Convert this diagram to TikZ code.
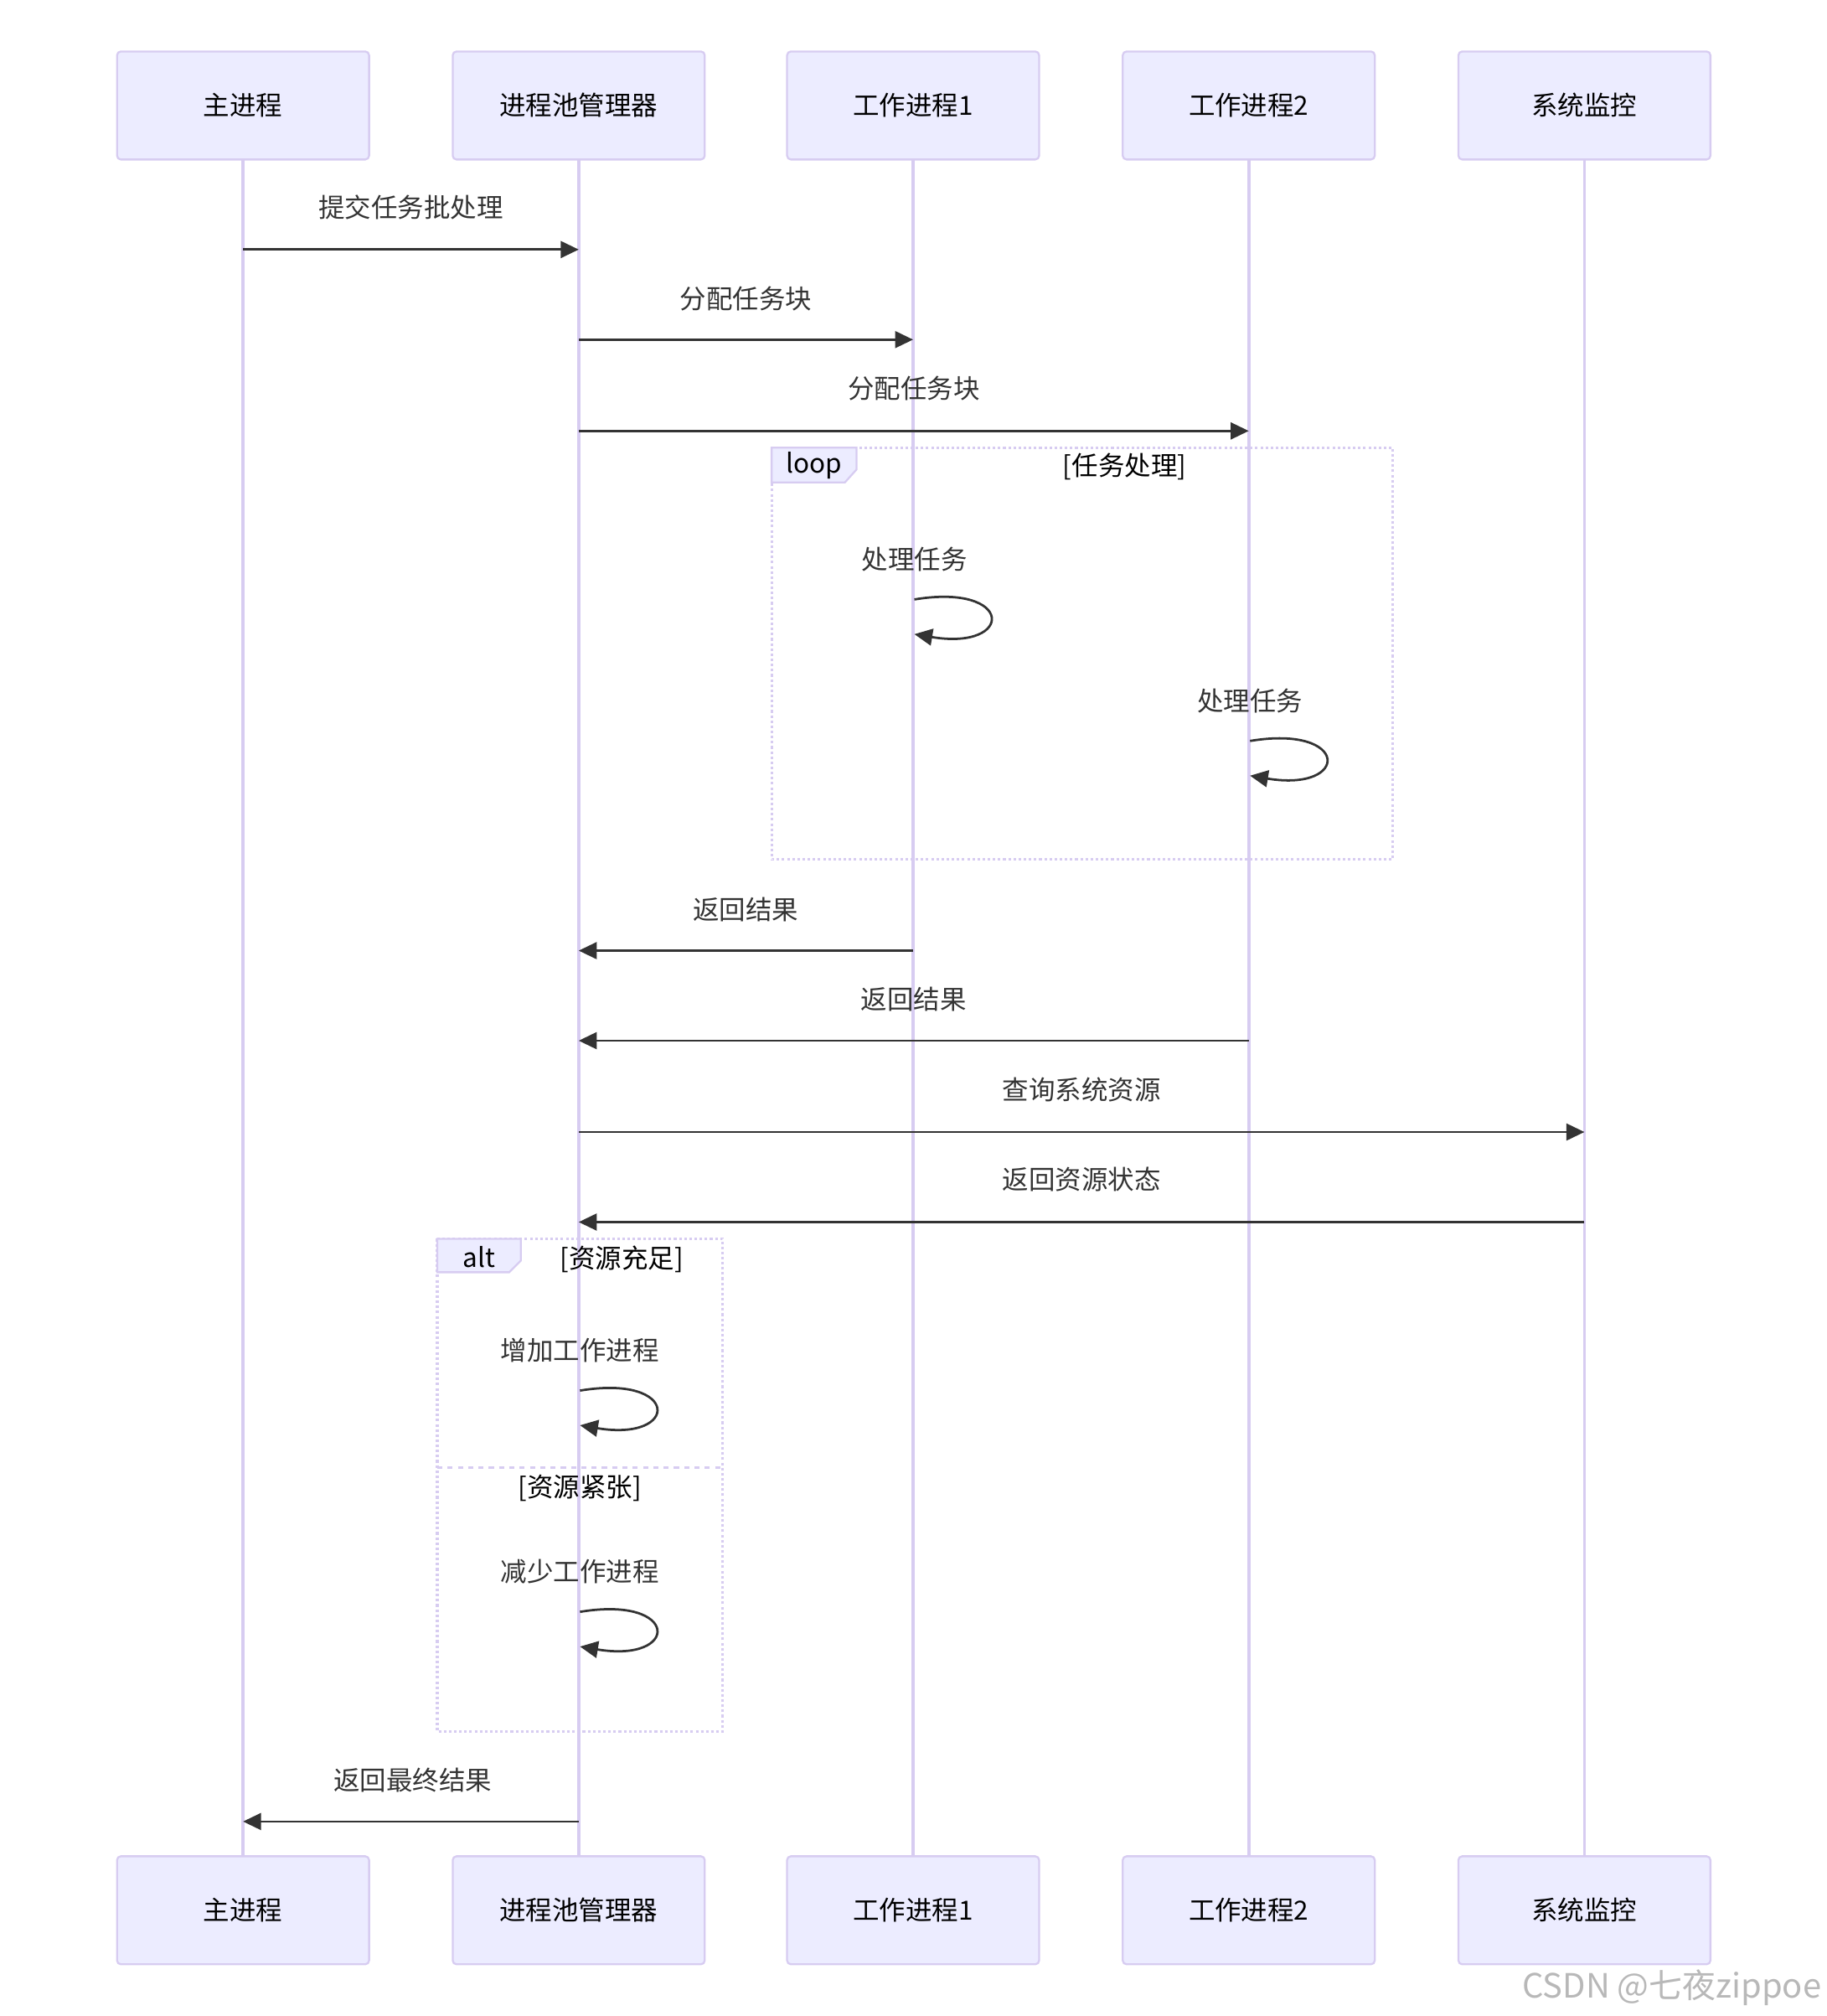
\documentclass[tikz,border=0pt]{standalone}
\usepackage{fontspec}
\setmainfont{Noto Sans CJK SC}
\usetikzlibrary{arrows.meta}
\definecolor{actfill}{HTML}{ECECFF}
\definecolor{actline}{HTML}{D7CCF1}
\definecolor{sig}{HTML}{333333}
\begin{document}
\begin{tikzpicture}[x=1pt,y=-1pt,
  actor/.style={draw=actline, line width=1.5pt, fill=actfill, rounded corners=3pt,
    minimum width=196pt, minimum height=84pt, inner sep=0pt,
    font=\fontsize{20.5}{24}\selectfont, text=black},
  life/.style={draw=actline, line width=2.5pt},
  msg/.style={draw=sig, line width=1.8pt, -{Triangle[length=14pt,width=13pt]}},
  lbl/.style={font=\fontsize{20.5}{24}\selectfont, text=sig, inner sep=0pt},
  flbl/.style={font=\fontsize{20.5}{24}\selectfont, text=black, inner sep=0pt},
  framebox/.style={draw=actline, line width=2pt, dash pattern=on 2pt off 2pt},
  divline/.style={draw=actline, line width=2pt, dash pattern=on 4pt off 4pt},
  tabbox/.style={draw=actline, line width=1.5pt, fill=actfill},
]
\useasboundingbox (0,0) rectangle (1420,1567.2);

% lifeline anchor coordinates
\coordinate (L1) at (189,0);
\coordinate (L2) at (450,0);
\coordinate (L3) at (710,0);
\coordinate (L4) at (971,0);
\coordinate (L5) at (1232,0);

% lifelines
\foreach \i/\x in {1/189,2/450,3/710,4/971,5/1232}{
  \coordinate (ltop\i) at (\x,124);
  \coordinate (lbot\i) at (\x,1443);
  \draw[life] (ltop\i) -- (lbot\i);
}

% loop frame
\draw[framebox] (600,348) rectangle (1083,668);
\draw[tabbox] (600,348) -- (666,348) -- (666,365) -- (657,375) -- (600,375) -- cycle;
\node[flbl] (looplbl) at (633,362) {loop};
\node[flbl] (loopcond) at (874.5,363) {[任务处理]};

% alt frame
\draw[framebox] (340,963) rectangle (562,1346);
\draw[divline] (340,1141) -- (562,1141);
\draw[tabbox] (340,963) -- (405,963) -- (405,980) -- (396,989) -- (340,989) -- cycle;
\node[flbl] (altlbl) at (372.5,977) {alt};
\node[flbl] (altcond1) at (483.5,979) {[资源充足]};
\node[flbl] (altcond2) at (451,1157) {[资源紧张]};

% message y-coordinates
\foreach \n/\y in {1/194,2/264,3/335,6/739,7/809,8/880,9/950,10/1416}{
  \coordinate (y\n) at (0,\y);
}

% messages
\node[lbl] (t1) at (319.5,161) {提交任务批处理};
\draw[msg] (L1 |- y1) -- (L2 |- y1);
\node[lbl] (t2) at (580,232) {分配任务块};
\draw[msg] (L2 |- y2) -- (L3 |- y2);
\node[lbl] (t3) at (710.5,302) {分配任务块};
\draw[msg] (L2 |- y3) -- (L4 |- y3);

% self loops
\node[lbl] (t4) at (711,435) {处理任务};
\coordinate (s4) at (711,466);
\coordinate (e4) at (711,493);
\draw[msg] (s4) .. controls (789,453) and (789,506) .. (e4);

\node[lbl] (t5) at (972,545) {处理任务};
\coordinate (s5) at (972,576);
\coordinate (e5) at (972,603);
\draw[msg] (s5) .. controls (1050,563) and (1050,616) .. (e5);

\node[lbl] (t6) at (580,707) {返回结果};
\draw[msg] (L3 |- y6) -- (L2 |- y6);
\node[lbl] (t7) at (710.5,777) {返回结果};
\draw[msg] (L4 |- y7) -- (L2 |- y7);
\node[lbl] (t8) at (841,847) {查询系统资源};
\draw[msg] (L2 |- y8) -- (L5 |- y8);
\node[lbl] (t9) at (841,917) {返回资源状态};
\draw[msg] (L5 |- y9) -- (L2 |- y9);

\node[lbl] (t11) at (451,1050) {增加工作进程};
\coordinate (s11) at (451,1081);
\coordinate (e11) at (451,1108);
\draw[msg] (s11) .. controls (529,1068) and (529,1121) .. (e11);

\node[lbl] (t12) at (451,1222) {减少工作进程};
\coordinate (s12) at (451,1253);
\coordinate (e12) at (451,1280);
\draw[msg] (s12) .. controls (529,1240) and (529,1293) .. (e12);

\node[lbl] (t10) at (321,1384) {返回最终结果};
\draw[msg] (L2 |- y10) -- (L1 |- y10);

% actors
\foreach \i/\x/\t in {1/189/主进程,2/450/进程池管理器,3/710/工作进程1,4/971/工作进程2,5/1232/系统监控}{
  \node[actor] (top\i) at (\x,82) {\t};
  \node[actor] (bot\i) at (\x,1485) {\t};
}

% watermark
\node[font=\fontsize{26}{30}\selectfont, text=black!28, inner sep=0pt] (wm) at (1300,1545) {CSDN @七夜zippoe};
\end{tikzpicture}
\end{document}
